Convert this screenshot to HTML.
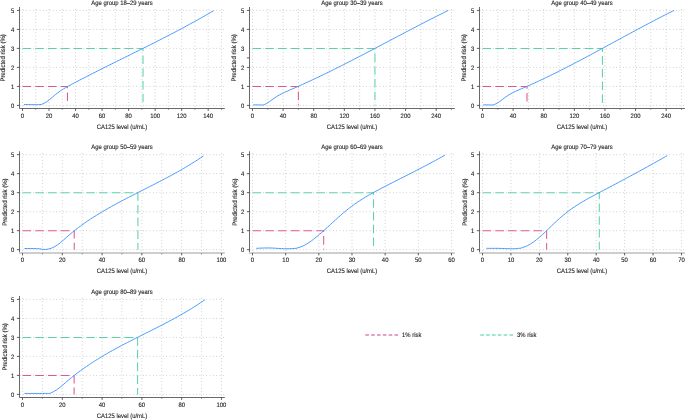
<!DOCTYPE html>
<html lang="en"><head><meta charset="utf-8"><title>Predicted risk by CA125 level and age group</title>
<style>html,body{margin:0;padding:0;background:#fff}body{width:685px;height:420px;overflow:hidden}svg{display:block}text{font-family:"Liberation Sans",Arial,Helvetica,sans-serif;font-size:6px;fill:#1a1a1a;stroke:#1a1a1a;stroke-width:.1px;text-rendering:geometricPrecision}.ax{stroke:#5c5c5c;stroke-width:.92;fill:none}.ax2{stroke:#cecece;stroke-width:2;fill:none}.tk{stroke:#4c4c4c;stroke-width:.9;fill:none}.mt{stroke:#5a5a5a;stroke-width:.6;fill:none}.g,.gh{stroke:#959595;stroke-width:.65;stroke-dasharray:.65 2.68;fill:none}.c{stroke:#479aff;stroke-width:1;fill:none;stroke-linejoin:round}.r{stroke:#dd5890;stroke-width:1.05;fill:none;stroke-dasharray:8.65 4.1}.wu{stroke:#fff;stroke-width:1.8;fill:none;stroke-dasharray:8.65 4.1}.gr{stroke:#5cd3a6;stroke-width:1.05;fill:none;stroke-dasharray:8.65 4.1}</style></head><body>
<svg width="685" height="420" viewBox="0 0 685 420">
<rect width="685" height="420" fill="#fff"/>
<g>
<path class="gh" d="M19.8 105.4H224.8M19.8 86.4H224.8M19.8 67.4H224.8M19.8 48.4H224.8M19.8 29.4H224.8M19.8 10.4H224.8"/>
<path class="g" d="M22.5 9.1V108M35.76 9.1V108M49.03 9.1V108M62.29 9.1V108M75.56 9.1V108M88.82 9.1V108M102.08 9.1V108M115.35 9.1V108M128.61 9.1V108M141.88 9.1V108M155.14 9.1V108M168.4 9.1V108M181.67 9.1V108M194.93 9.1V108M208.2 9.1V108M221.46 9.1V108"/>
<path class="wu" d="M22.5 48.4H143V105.4"/>
<path class="wu" d="M22.5 86.4H67.46V105.4"/>
<path class="gr" d="M22.5 48.4H143V105.4"/>
<path class="r" d="M22.5 86.4H67.46V105.4"/>
<polyline class="c" points="23.96,104.53 25.55,104.54 27.14,104.56 28.74,104.58 30.33,104.6 31.92,104.63 33.52,104.64 35.11,104.64 36.7,104.64 38.29,104.63 39.89,104.58 41.48,104.46 43.07,103.76 44.67,102.93 46.26,101.97 47.85,100.91 49.44,99.72 51.04,98.4 52.63,97.03 54.22,95.66 55.81,94.31 57.41,93.05 59,91.87 60.59,90.76 62.19,89.71 63.78,88.72 65.37,87.77 66.96,86.86 68.56,85.99 70.15,85.13 71.74,84.28 73.34,83.44 74.93,82.6 76.52,81.77 78.11,80.93 79.71,80.1 81.3,79.28 82.89,78.45 84.49,77.63 86.08,76.81 87.67,76 89.26,75.18 90.86,74.37 92.45,73.56 94.04,72.75 95.63,71.95 97.23,71.14 98.82,70.34 100.41,69.54 102.01,68.74 103.6,67.94 105.19,67.14 106.78,66.35 108.38,65.56 109.97,64.76 111.56,63.97 113.16,63.18 114.75,62.39 116.34,61.6 117.93,60.81 119.53,60.02 121.12,59.23 122.71,58.44 124.31,57.66 125.9,56.87 127.49,56.08 129.08,55.29 130.68,54.5 132.27,53.71 133.86,52.92 135.45,52.14 137.05,51.35 138.64,50.55 140.23,49.76 141.83,48.97 143.42,48.18 145.01,47.38 146.6,46.58 148.2,45.79 149.79,44.99 151.38,44.19 152.98,43.39 154.57,42.58 156.16,41.78 157.75,40.97 159.35,40.16 160.94,39.35 162.53,38.54 164.12,37.72 165.72,36.9 167.31,36.08 168.9,35.26 170.5,34.43 172.09,33.61 173.68,32.77 175.27,31.94 176.87,31.1 178.46,30.26 180.05,29.42 181.65,28.57 183.24,27.72 184.83,26.87 186.42,26.01 188.02,25.15 189.61,24.28 191.2,23.41 192.8,22.54 194.39,21.66 195.98,20.78 197.57,19.89 199.17,19 200.76,18.11 202.35,17.21 203.94,16.3 205.54,15.39 207.13,14.48 208.72,13.56 210.32,12.64 211.91,11.71 213.5,10.77"/>
<path class="ax" d="M19.5 7V108.5H224.8"/>
<path class="tk" d="M16.9 105.4H19.5M16.9 86.4H19.5M16.9 67.4H19.5M16.9 48.4H19.5M16.9 29.4H19.5M16.9 10.4H19.5"/>
<text transform="translate(14.2 107.6) scale(.985 1.08)" text-anchor="end">0</text>
<text transform="translate(14.2 88.6) scale(.985 1.08)" text-anchor="end">1</text>
<text transform="translate(14.2 69.6) scale(.985 1.08)" text-anchor="end">2</text>
<text transform="translate(14.2 50.6) scale(.985 1.08)" text-anchor="end">3</text>
<text transform="translate(14.2 31.6) scale(.985 1.08)" text-anchor="end">4</text>
<text transform="translate(14.2 12.6) scale(.985 1.08)" text-anchor="end">5</text>
<path class="tk" d="M22.5 108.5V110.9M49.03 108.5V110.9M75.56 108.5V110.9M102.08 108.5V110.9M128.61 108.5V110.9M155.14 108.5V110.9M181.67 108.5V110.9M208.2 108.5V110.9"/>
<path class="mt" d="M35.76 108.5V110M62.29 108.5V110M88.82 108.5V110M115.35 108.5V110M141.88 108.5V110M168.4 108.5V110M194.93 108.5V110M221.46 108.5V110"/>
<text transform="translate(22.5 118.2) scale(.985 1.08)" text-anchor="middle">0</text>
<text transform="translate(49.03 118.2) scale(.985 1.08)" text-anchor="middle">20</text>
<text transform="translate(75.56 118.2) scale(.985 1.08)" text-anchor="middle">40</text>
<text transform="translate(102.08 118.2) scale(.985 1.08)" text-anchor="middle">60</text>
<text transform="translate(128.61 118.2) scale(.985 1.08)" text-anchor="middle">80</text>
<text transform="translate(155.14 118.2) scale(.985 1.08)" text-anchor="middle">100</text>
<text transform="translate(181.67 118.2) scale(.985 1.08)" text-anchor="middle">120</text>
<text transform="translate(208.2 118.2) scale(.985 1.08)" text-anchor="middle">140</text>
<text transform="translate(122 129.3) scale(.985 1.08)" text-anchor="middle">CA125 level (u/mL)</text>
<text transform="translate(122 4.5) scale(.985 1.08)" text-anchor="middle">Age group 18–29 years</text>
<text transform="translate(5.4 57.9) rotate(-90) scale(1 1.08)" text-anchor="middle">Predicted risk (%)</text>
</g>
<g>
<path class="gh" d="M249.8 105.4H454.8M249.8 86.4H454.8M249.8 67.4H454.8M249.8 48.4H454.8M249.8 29.4H454.8M249.8 10.4H454.8"/>
<path class="g" d="M252.5 9.1V108M267.8 9.1V108M283.11 9.1V108M298.41 9.1V108M313.72 9.1V108M329.02 9.1V108M344.33 9.1V108M359.63 9.1V108M374.94 9.1V108M390.24 9.1V108M405.55 9.1V108M420.85 9.1V108M436.16 9.1V108M451.46 9.1V108"/>
<path class="wu" d="M252.5 48.4H374.94V105.4"/>
<path class="wu" d="M252.5 86.4H298.41V105.4"/>
<path class="gr" d="M252.5 48.4H374.94V105.4"/>
<path class="r" d="M252.5 86.4H298.41V105.4"/>
<polyline class="c" points="253.27,104.83 254.9,104.86 256.54,104.89 258.18,104.92 259.82,104.95 261.46,105 263.1,105.02 264.73,104.45 266.37,103.55 268.01,102.61 269.65,101.51 271.29,100.32 272.93,99.14 274.57,98 276.2,96.91 277.84,95.9 279.48,94.95 281.12,94.06 282.76,93.23 284.4,92.43 286.04,91.67 287.67,90.94 289.31,90.22 290.95,89.51 292.59,88.81 294.23,88.09 295.87,87.38 297.5,86.65 299.14,85.93 300.78,85.2 302.42,84.46 304.06,83.72 305.7,82.97 307.34,82.22 308.97,81.46 310.61,80.7 312.25,79.94 313.89,79.17 315.53,78.4 317.17,77.62 318.8,76.84 320.44,76.06 322.08,75.27 323.72,74.48 325.36,73.68 327,72.89 328.64,72.08 330.27,71.28 331.91,70.47 333.55,69.66 335.19,68.84 336.83,68.03 338.47,67.21 340.11,66.38 341.74,65.56 343.38,64.73 345.02,63.9 346.66,63.06 348.3,62.23 349.94,61.39 351.57,60.55 353.21,59.71 354.85,58.86 356.49,58.02 358.13,57.17 359.77,56.32 361.41,55.47 363.04,54.62 364.68,53.76 366.32,52.91 367.96,52.05 369.6,51.19 371.24,50.33 372.88,49.47 374.51,48.61 376.15,47.75 377.79,46.89 379.43,46.03 381.07,45.16 382.71,44.3 384.34,43.44 385.98,42.57 387.62,41.71 389.26,40.84 390.9,39.98 392.54,39.11 394.18,38.25 395.81,37.38 397.45,36.52 399.09,35.66 400.73,34.79 402.37,33.93 404.01,33.07 405.65,32.21 407.28,31.35 408.92,30.49 410.56,29.63 412.2,28.78 413.84,27.92 415.48,27.07 417.11,26.22 418.75,25.36 420.39,24.51 422.03,23.67 423.67,22.82 425.31,21.98 426.95,21.13 428.58,20.29 430.22,19.46 431.86,18.62 433.5,17.79 435.14,16.96 436.78,16.13 438.42,15.3 440.05,14.48 441.69,13.66 443.33,12.84 444.97,12.03 446.61,11.22 448.25,10.41"/>
<path class="ax" d="M249.5 7V108.5H454.8"/>
<path class="tk" d="M246.9 105.4H249.5M246.9 86.4H249.5M246.9 67.4H249.5M246.9 57.9H249.5M246.9 29.4H249.5M246.9 10.4H249.5"/>
<text transform="translate(244.2 107.6) scale(.985 1.08)" text-anchor="end">0</text>
<text transform="translate(244.2 88.6) scale(.985 1.08)" text-anchor="end">1</text>
<text transform="translate(244.2 69.6) scale(.985 1.08)" text-anchor="end">2</text>
<text transform="translate(244.2 50.6) scale(.985 1.08)" text-anchor="end">3</text>
<text transform="translate(244.2 31.6) scale(.985 1.08)" text-anchor="end">4</text>
<text transform="translate(244.2 12.6) scale(.985 1.08)" text-anchor="end">5</text>
<path class="tk" d="M252.5 108.5V110.9M283.11 108.5V110.9M313.72 108.5V110.9M344.33 108.5V110.9M374.94 108.5V110.9M405.55 108.5V110.9M436.16 108.5V110.9"/>
<path class="mt" d="M267.8 108.5V110M298.41 108.5V110M329.02 108.5V110M359.63 108.5V110M390.24 108.5V110M420.85 108.5V110M451.46 108.5V110"/>
<text transform="translate(252.5 118.2) scale(.985 1.08)" text-anchor="middle">0</text>
<text transform="translate(283.11 118.2) scale(.985 1.08)" text-anchor="middle">40</text>
<text transform="translate(313.72 118.2) scale(.985 1.08)" text-anchor="middle">80</text>
<text transform="translate(344.33 118.2) scale(.985 1.08)" text-anchor="middle">120</text>
<text transform="translate(374.94 118.2) scale(.985 1.08)" text-anchor="middle">160</text>
<text transform="translate(405.55 118.2) scale(.985 1.08)" text-anchor="middle">200</text>
<text transform="translate(436.16 118.2) scale(.985 1.08)" text-anchor="middle">240</text>
<text transform="translate(352 129.3) scale(.985 1.08)" text-anchor="middle">CA125 level (u/mL)</text>
<text transform="translate(352 4.5) scale(.985 1.08)" text-anchor="middle">Age group 30–39 years</text>
<text transform="translate(236.35 57.9) rotate(-90) scale(1 1.08)" text-anchor="middle">Predicted risk (%)</text>
</g>
<g>
<path class="gh" d="M479.8 105.4H684.8M479.8 86.4H684.8M479.8 67.4H684.8M479.8 48.4H684.8M479.8 29.4H684.8M479.8 10.4H684.8"/>
<path class="g" d="M482.5 9.1V108M497.8 9.1V108M513.11 9.1V108M528.41 9.1V108M543.72 9.1V108M559.02 9.1V108M574.33 9.1V108M589.63 9.1V108M604.94 9.1V108M620.24 9.1V108M635.55 9.1V108M650.85 9.1V108M666.16 9.1V108M681.46 9.1V108"/>
<path class="wu" d="M482.5 48.4H602.41V105.4"/>
<path class="wu" d="M482.5 86.4H527V105.4"/>
<path class="gr" d="M482.5 48.4H602.41V105.4"/>
<path class="r" d="M482.5 86.4H527V105.4"/>
<polyline class="c" points="483.27,104.83 484.87,104.86 486.47,104.88 488.08,104.91 489.68,104.95 491.28,104.99 492.89,105.02 494.49,104.58 496.1,103.7 497.7,102.81 499.3,101.76 500.91,100.59 502.51,99.37 504.11,98.14 505.72,96.96 507.32,95.86 508.93,94.83 510.53,93.89 512.13,93.02 513.74,92.21 515.34,91.44 516.94,90.7 518.55,90 520.15,89.31 521.76,88.62 523.36,87.93 524.96,87.24 526.57,86.54 528.17,85.83 529.77,85.12 531.38,84.4 532.98,83.67 534.59,82.94 536.19,82.21 537.79,81.47 539.4,80.72 541,79.97 542.6,79.21 544.21,78.45 545.81,77.68 547.42,76.91 549.02,76.14 550.62,75.36 552.23,74.57 553.83,73.78 555.43,72.99 557.04,72.19 558.64,71.39 560.25,70.58 561.85,69.77 563.45,68.96 565.06,68.15 566.66,67.33 568.27,66.5 569.87,65.68 571.47,64.85 573.08,64.01 574.68,63.18 576.28,62.34 577.89,61.5 579.49,60.66 581.1,59.81 582.7,58.96 584.3,58.11 585.91,57.26 587.51,56.41 589.11,55.55 590.72,54.69 592.32,53.83 593.93,52.97 595.53,52.11 597.13,51.24 598.74,50.38 600.34,49.51 601.94,48.65 603.55,47.78 605.15,46.91 606.76,46.04 608.36,45.17 609.96,44.3 611.57,43.43 613.17,42.56 614.77,41.69 616.38,40.82 617.98,39.94 619.59,39.07 621.19,38.2 622.79,37.33 624.4,36.46 626,35.6 627.6,34.73 629.21,33.86 630.81,32.99 632.42,32.13 634.02,31.27 635.62,30.4 637.23,29.54 638.83,28.68 640.43,27.83 642.04,26.97 643.64,26.12 645.25,25.27 646.85,24.42 648.45,23.57 650.06,22.72 651.66,21.88 653.26,21.04 654.87,20.2 656.47,19.37 658.08,18.54 659.68,17.71 661.28,16.88 662.89,16.06 664.49,15.24 666.09,14.43 667.7,13.61 669.3,12.8 670.91,12 672.51,11.2 674.11,10.4"/>
<path class="ax" d="M479.5 7V108.5H684.8"/>
<path class="tk" d="M476.9 105.4H479.5M476.9 86.4H479.5M476.9 67.4H479.5M476.9 48.4H479.5M476.9 29.4H479.5M476.9 10.4H479.5"/>
<text transform="translate(474.2 107.6) scale(.985 1.08)" text-anchor="end">0</text>
<text transform="translate(474.2 88.6) scale(.985 1.08)" text-anchor="end">1</text>
<text transform="translate(474.2 69.6) scale(.985 1.08)" text-anchor="end">2</text>
<text transform="translate(474.2 50.6) scale(.985 1.08)" text-anchor="end">3</text>
<text transform="translate(474.2 31.6) scale(.985 1.08)" text-anchor="end">4</text>
<text transform="translate(474.2 12.6) scale(.985 1.08)" text-anchor="end">5</text>
<path class="tk" d="M482.5 108.5V110.9M513.11 108.5V110.9M543.72 108.5V110.9M574.33 108.5V110.9M604.94 108.5V110.9M635.55 108.5V110.9M666.16 108.5V110.9"/>
<path class="mt" d="M497.8 108.5V110M528.41 108.5V110M559.02 108.5V110M589.63 108.5V110M620.24 108.5V110M650.85 108.5V110M681.46 108.5V110"/>
<text transform="translate(482.5 118.2) scale(.985 1.08)" text-anchor="middle">0</text>
<text transform="translate(513.11 118.2) scale(.985 1.08)" text-anchor="middle">40</text>
<text transform="translate(543.72 118.2) scale(.985 1.08)" text-anchor="middle">80</text>
<text transform="translate(574.33 118.2) scale(.985 1.08)" text-anchor="middle">120</text>
<text transform="translate(604.94 118.2) scale(.985 1.08)" text-anchor="middle">160</text>
<text transform="translate(635.55 118.2) scale(.985 1.08)" text-anchor="middle">200</text>
<text transform="translate(666.16 118.2) scale(.985 1.08)" text-anchor="middle">240</text>
<text transform="translate(582 129.3) scale(.985 1.08)" text-anchor="middle">CA125 level (u/mL)</text>
<text transform="translate(582 4.5) scale(.985 1.08)" text-anchor="middle">Age group 40–49 years</text>
<text transform="translate(466.35 57.9) rotate(-90) scale(1 1.08)" text-anchor="middle">Predicted risk (%)</text>
</g>
<g>
<path class="gh" d="M19.8 249.68H224.8M19.8 230.68H224.8M19.8 211.68H224.8M19.8 192.68H224.8M19.8 173.68H224.8M19.8 154.68H224.8"/>
<path class="g" d="M22.5 153.38V252.5M42.4 153.38V252.5M62.29 153.38V252.5M82.19 153.38V252.5M102.08 153.38V252.5M121.98 153.38V252.5M141.88 153.38V252.5M161.77 153.38V252.5M181.67 153.38V252.5M201.56 153.38V252.5M221.46 153.38V252.5"/>
<path class="wu" d="M22.5 192.68H137.9V249.68"/>
<path class="wu" d="M22.5 230.68H74.23V249.68"/>
<path class="gr" d="M22.5 192.68H137.9V249.68"/>
<path class="r" d="M22.5 230.68H74.23V249.68"/>
<polyline class="c" points="24.49,248.54 25.99,248.54 27.5,248.54 29,248.54 30.5,248.54 32,248.54 33.51,248.55 35.01,248.58 36.51,248.63 38.02,248.7 39.52,248.81 41.02,249.04 42.53,249.3 44.03,249.47 45.53,249.46 47.04,249.29 48.54,249.01 50.04,248.67 51.54,248.17 53.05,247.44 54.55,246.69 56.05,245.8 57.56,244.79 59.06,243.68 60.56,242.49 62.07,241.24 63.57,239.94 65.07,238.62 66.58,237.28 68.08,235.96 69.58,234.66 71.08,233.39 72.59,232.15 74.09,230.93 75.59,229.74 77.1,228.57 78.6,227.42 80.1,226.3 81.61,225.2 83.11,224.12 84.61,223.06 86.12,222.01 87.62,220.99 89.12,219.98 90.62,218.99 92.13,218.02 93.63,217.06 95.13,216.11 96.64,215.18 98.14,214.26 99.64,213.35 101.15,212.45 102.65,211.56 104.15,210.68 105.66,209.81 107.16,208.94 108.66,208.09 110.16,207.24 111.67,206.4 113.17,205.57 114.67,204.74 116.18,203.92 117.68,203.11 119.18,202.3 120.69,201.5 122.19,200.7 123.69,199.91 125.2,199.12 126.7,198.34 128.2,197.56 129.7,196.78 131.21,196.01 132.71,195.24 134.21,194.47 135.72,193.7 137.22,192.94 138.72,192.18 140.23,191.41 141.73,190.65 143.23,189.89 144.74,189.13 146.24,188.37 147.74,187.61 149.24,186.85 150.75,186.08 152.25,185.32 153.75,184.55 155.26,183.78 156.76,183.01 158.26,182.23 159.77,181.46 161.27,180.67 162.77,179.89 164.27,179.1 165.78,178.3 167.28,177.51 168.78,176.7 170.29,175.89 171.79,175.08 173.29,174.25 174.8,173.43 176.3,172.59 177.8,171.75 179.31,170.9 180.81,170.04 182.31,169.17 183.81,168.3 185.32,167.41 186.82,166.52 188.32,165.62 189.83,164.71 191.33,163.78 192.83,162.85 194.34,161.91 195.84,160.95 197.34,159.99 198.85,159.01 200.35,158.02 201.85,157.01 203.35,156"/>
<path class="ax" d="M19.5 151.28V253.5"/>
<path class="ax2" d="M19 253H224.8"/>
<path class="tk" d="M16.9 249.68H19.5M16.9 230.68H19.5M16.9 211.68H19.5M16.9 192.68H19.5M16.9 173.68H19.5M16.9 154.68H19.5"/>
<text transform="translate(14.2 251.88) scale(.985 1.08)" text-anchor="end">0</text>
<text transform="translate(14.2 232.88) scale(.985 1.08)" text-anchor="end">1</text>
<text transform="translate(14.2 213.88) scale(.985 1.08)" text-anchor="end">2</text>
<text transform="translate(14.2 194.88) scale(.985 1.08)" text-anchor="end">3</text>
<text transform="translate(14.2 175.88) scale(.985 1.08)" text-anchor="end">4</text>
<text transform="translate(14.2 156.88) scale(.985 1.08)" text-anchor="end">5</text>
<path class="tk" d="M22.5 253V255.4M62.29 253V255.4M102.08 253V255.4M141.88 253V255.4M181.67 253V255.4M221.46 253V255.4"/>
<path class="mt" d="M42.4 253V254.5M82.19 253V254.5M121.98 253V254.5M161.77 253V254.5M201.56 253V254.5"/>
<text transform="translate(22.5 262.2) scale(.985 1.08)" text-anchor="middle">0</text>
<text transform="translate(62.29 262.2) scale(.985 1.08)" text-anchor="middle">20</text>
<text transform="translate(102.08 262.2) scale(.985 1.08)" text-anchor="middle">40</text>
<text transform="translate(141.88 262.2) scale(.985 1.08)" text-anchor="middle">60</text>
<text transform="translate(181.67 262.2) scale(.985 1.08)" text-anchor="middle">80</text>
<text transform="translate(221.46 262.2) scale(.985 1.08)" text-anchor="middle">100</text>
<text transform="translate(122 273.3) scale(.985 1.08)" text-anchor="middle">CA125 level (u/mL)</text>
<text transform="translate(122 148.78) scale(.985 1.08)" text-anchor="middle">Age group 50–59 years</text>
<text transform="translate(7.35 202.18) rotate(-90) scale(1 1.08)" text-anchor="middle">Predicted risk (%)</text>
</g>
<g>
<path class="gh" d="M249.8 249.68H454.8M249.8 230.68H454.8M249.8 211.68H454.8M249.8 192.68H454.8M249.8 173.68H454.8M249.8 154.68H454.8"/>
<path class="g" d="M252.5 153.38V252.5M285.66 153.38V252.5M318.82 153.38V252.5M351.98 153.38V252.5M385.14 153.38V252.5M418.3 153.38V252.5M451.46 153.38V252.5"/>
<path class="wu" d="M252.5 192.68H373.53V249.68"/>
<path class="wu" d="M252.5 230.68H323.69V249.68"/>
<path class="gr" d="M252.5 192.68H373.53V249.68"/>
<path class="r" d="M252.5 230.68H323.69V249.68"/>
<polyline class="c" points="256.31,248.35 257.9,248.26 259.48,248.18 261.07,248.11 262.65,248.06 264.23,248.02 265.82,247.99 267.4,247.97 268.99,247.97 270.57,247.99 272.15,248.05 273.74,248.13 275.32,248.23 276.91,248.33 278.49,248.44 280.08,248.54 281.66,248.62 283.24,248.69 284.83,248.72 286.41,248.73 288,248.71 289.58,248.68 291.16,248.63 292.75,248.56 294.33,248.46 295.92,248.35 297.5,247.94 299.09,247.45 300.67,246.91 302.25,246.26 303.84,245.52 305.42,244.68 307.01,243.77 308.59,242.77 310.17,241.71 311.76,240.58 313.34,239.39 314.93,238.16 316.51,236.88 318.1,235.56 319.68,234.21 321.26,232.84 322.85,231.44 324.43,230.03 326.02,228.59 327.6,227.15 329.18,225.7 330.77,224.24 332.35,222.79 333.94,221.33 335.52,219.89 337.11,218.45 338.69,217.03 340.27,215.62 341.86,214.24 343.44,212.88 345.03,211.54 346.61,210.24 348.19,208.98 349.78,207.75 351.36,206.55 352.95,205.39 354.53,204.25 356.12,203.15 357.7,202.07 359.28,201.02 360.87,199.99 362.45,198.99 364.04,198.01 365.62,197.05 367.2,196.11 368.79,195.18 370.37,194.28 371.96,193.39 373.54,192.51 375.13,191.65 376.71,190.79 378.29,189.95 379.88,189.11 381.46,188.28 383.05,187.46 384.63,186.64 386.21,185.83 387.8,185.01 389.38,184.2 390.97,183.39 392.55,182.59 394.13,181.78 395.72,180.97 397.3,180.17 398.89,179.37 400.47,178.56 402.06,177.76 403.64,176.96 405.22,176.15 406.81,175.35 408.39,174.54 409.98,173.74 411.56,172.93 413.14,172.12 414.73,171.31 416.31,170.5 417.9,169.68 419.48,168.86 421.07,168.04 422.65,167.22 424.23,166.39 425.82,165.56 427.4,164.73 428.99,163.89 430.57,163.05 432.15,162.2 433.74,161.35 435.32,160.49 436.91,159.63 438.49,158.77 440.08,157.89 441.66,157.02 443.24,156.13 444.83,155.24"/>
<path class="ax" d="M249.5 151.28V253.5"/>
<path class="ax2" d="M249 253H454.8"/>
<path class="tk" d="M246.9 249.68H249.5M246.9 230.68H249.5M246.9 211.68H249.5M246.9 192.68H249.5M246.9 173.68H249.5M246.9 154.68H249.5"/>
<text transform="translate(244.2 251.88) scale(.985 1.08)" text-anchor="end">0</text>
<text transform="translate(244.2 232.88) scale(.985 1.08)" text-anchor="end">1</text>
<text transform="translate(244.2 213.88) scale(.985 1.08)" text-anchor="end">2</text>
<text transform="translate(244.2 194.88) scale(.985 1.08)" text-anchor="end">3</text>
<text transform="translate(244.2 175.88) scale(.985 1.08)" text-anchor="end">4</text>
<text transform="translate(244.2 156.88) scale(.985 1.08)" text-anchor="end">5</text>
<path class="tk" d="M252.5 253V255.4M285.66 253V255.4M318.82 253V255.4M351.98 253V255.4M385.14 253V255.4M418.3 253V255.4M451.46 253V255.4"/>
<text transform="translate(252.5 262.2) scale(.985 1.08)" text-anchor="middle">0</text>
<text transform="translate(285.66 262.2) scale(.985 1.08)" text-anchor="middle">10</text>
<text transform="translate(318.82 262.2) scale(.985 1.08)" text-anchor="middle">20</text>
<text transform="translate(351.98 262.2) scale(.985 1.08)" text-anchor="middle">30</text>
<text transform="translate(385.14 262.2) scale(.985 1.08)" text-anchor="middle">40</text>
<text transform="translate(418.3 262.2) scale(.985 1.08)" text-anchor="middle">50</text>
<text transform="translate(451.46 262.2) scale(.985 1.08)" text-anchor="middle">60</text>
<text transform="translate(352 273.3) scale(.985 1.08)" text-anchor="middle">CA125 level (u/mL)</text>
<text transform="translate(352 148.78) scale(.985 1.08)" text-anchor="middle">Age group 60–69 years</text>
<text transform="translate(237.35 202.18) rotate(-90) scale(1 1.08)" text-anchor="middle">Predicted risk (%)</text>
</g>
<g>
<path class="gh" d="M479.8 249.68H684.8M479.8 230.68H684.8M479.8 211.68H684.8M479.8 192.68H684.8M479.8 173.68H684.8M479.8 154.68H684.8"/>
<path class="g" d="M482.5 153.38V252.5M510.92 153.38V252.5M539.35 153.38V252.5M567.77 153.38V252.5M596.19 153.38V252.5M624.61 153.38V252.5M653.04 153.38V252.5M681.46 153.38V252.5"/>
<path class="wu" d="M482.5 192.68H599.29V249.68"/>
<path class="wu" d="M482.5 230.68H546.65V249.68"/>
<path class="gr" d="M482.5 192.68H599.29V249.68"/>
<path class="r" d="M482.5 230.68H546.65V249.68"/>
<polyline class="c" points="486.34,248.35 487.86,248.35 489.38,248.35 490.9,248.35 492.42,248.35 493.94,248.35 495.46,248.35 496.98,248.35 498.5,248.37 500.02,248.4 501.54,248.45 503.06,248.5 504.58,248.56 506.1,248.62 507.62,248.67 509.14,248.71 510.66,248.73 512.18,248.72 513.7,248.69 515.22,248.63 516.74,248.54 518.26,248.43 519.78,248.28 521.3,248.07 522.82,247.5 524.34,246.98 525.86,246.38 527.38,245.67 528.9,244.87 530.42,243.98 531.95,243.01 533.47,241.96 534.99,240.85 536.51,239.67 538.03,238.44 539.55,237.15 541.07,235.82 542.59,234.45 544.11,233.05 545.63,231.62 547.15,230.18 548.67,228.72 550.19,227.25 551.71,225.78 553.23,224.31 554.75,222.86 556.27,221.42 557.79,220.01 559.31,218.62 560.83,217.27 562.35,215.96 563.87,214.7 565.39,213.47 566.91,212.27 568.43,211.12 569.95,209.99 571.47,208.9 572.99,207.84 574.51,206.81 576.03,205.81 577.55,204.83 579.07,203.87 580.59,202.94 582.11,202.02 583.63,201.13 585.15,200.25 586.67,199.39 588.19,198.54 589.72,197.7 591.24,196.87 592.76,196.05 594.28,195.24 595.8,194.44 597.32,193.63 598.84,192.83 600.36,192.03 601.88,191.23 603.4,190.42 604.92,189.62 606.44,188.82 607.96,188.01 609.48,187.21 611,186.4 612.52,185.6 614.04,184.79 615.56,183.98 617.08,183.17 618.6,182.36 620.12,181.55 621.64,180.74 623.16,179.92 624.68,179.11 626.2,178.29 627.72,177.47 629.24,176.66 630.76,175.84 632.28,175.01 633.8,174.19 635.32,173.37 636.84,172.54 638.36,171.71 639.88,170.88 641.4,170.05 642.92,169.22 644.44,168.39 645.96,167.55 647.49,166.71 649.01,165.87 650.53,165.03 652.05,164.19 653.57,163.34 655.09,162.49 656.61,161.64 658.13,160.79 659.65,159.93 661.17,159.08 662.69,158.22 664.21,157.35 665.73,156.49 667.25,155.62"/>
<path class="ax" d="M479.5 151.28V253.5"/>
<path class="ax2" d="M479 253H684.8"/>
<path class="tk" d="M476.9 249.68H479.5M476.9 230.68H479.5M476.9 211.68H479.5M476.9 192.68H479.5M476.9 173.68H479.5M476.9 154.68H479.5"/>
<text transform="translate(474.2 251.88) scale(.985 1.08)" text-anchor="end">0</text>
<text transform="translate(474.2 232.88) scale(.985 1.08)" text-anchor="end">1</text>
<text transform="translate(474.2 213.88) scale(.985 1.08)" text-anchor="end">2</text>
<text transform="translate(474.2 194.88) scale(.985 1.08)" text-anchor="end">3</text>
<text transform="translate(474.2 175.88) scale(.985 1.08)" text-anchor="end">4</text>
<text transform="translate(474.2 156.88) scale(.985 1.08)" text-anchor="end">5</text>
<path class="tk" d="M482.5 253V255.4M510.92 253V255.4M539.35 253V255.4M567.77 253V255.4M596.19 253V255.4M624.61 253V255.4M653.04 253V255.4M681.46 253V255.4"/>
<text transform="translate(482.5 262.2) scale(.985 1.08)" text-anchor="middle">0</text>
<text transform="translate(510.92 262.2) scale(.985 1.08)" text-anchor="middle">10</text>
<text transform="translate(539.35 262.2) scale(.985 1.08)" text-anchor="middle">20</text>
<text transform="translate(567.77 262.2) scale(.985 1.08)" text-anchor="middle">30</text>
<text transform="translate(596.19 262.2) scale(.985 1.08)" text-anchor="middle">40</text>
<text transform="translate(624.61 262.2) scale(.985 1.08)" text-anchor="middle">50</text>
<text transform="translate(653.04 262.2) scale(.985 1.08)" text-anchor="middle">60</text>
<text transform="translate(681.46 262.2) scale(.985 1.08)" text-anchor="middle">70</text>
<text transform="translate(582 273.3) scale(.985 1.08)" text-anchor="middle">CA125 level (u/mL)</text>
<text transform="translate(582 148.78) scale(.985 1.08)" text-anchor="middle">Age group 70–79 years</text>
<text transform="translate(467.35 202.18) rotate(-90) scale(1 1.08)" text-anchor="middle">Predicted risk (%)</text>
</g>
<g>
<path class="gh" d="M19.8 394.4H224.8M19.8 375.4H224.8M19.8 356.4H224.8M19.8 337.4H224.8M19.8 318.4H224.8M19.8 299.4H224.8"/>
<path class="g" d="M22.5 298.1V397M42.4 298.1V397M62.29 298.1V397M82.19 298.1V397M102.08 298.1V397M121.98 298.1V397M141.88 298.1V397M161.77 298.1V397M181.67 298.1V397M201.56 298.1V397M221.46 298.1V397"/>
<path class="wu" d="M22.5 337.4H137.6V394.4"/>
<path class="wu" d="M22.5 375.4H74.13V394.4"/>
<path class="gr" d="M22.5 337.4H137.6V394.4"/>
<path class="r" d="M22.5 375.4H74.13V394.4"/>
<polyline class="c" points="24.49,393.45 26.01,393.45 27.52,393.45 29.04,393.45 30.56,393.45 32.07,393.45 33.59,393.45 35.1,393.45 36.62,393.45 38.14,393.45 39.65,393.45 41.17,393.45 42.69,393.45 44.2,393.45 45.72,393.45 47.24,393.45 48.75,393.45 50.27,393.23 51.79,392.5 53.3,391.79 54.82,390.96 56.33,390 57.85,388.93 59.37,387.79 60.88,386.58 62.4,385.31 63.92,384.02 65.43,382.71 66.95,381.4 68.47,380.12 69.98,378.85 71.5,377.61 73.02,376.39 74.53,375.19 76.05,374.02 77.57,372.87 79.08,371.73 80.6,370.62 82.11,369.52 83.63,368.44 85.15,367.38 86.66,366.34 88.18,365.31 89.7,364.29 91.21,363.29 92.73,362.3 94.25,361.32 95.76,360.36 97.28,359.41 98.8,358.47 100.31,357.54 101.83,356.63 103.34,355.72 104.86,354.83 106.38,353.94 107.89,353.07 109.41,352.2 110.93,351.34 112.44,350.49 113.96,349.65 115.48,348.82 116.99,347.99 118.51,347.18 120.03,346.36 121.54,345.56 123.06,344.76 124.57,343.96 126.09,343.17 127.61,342.39 129.12,341.61 130.64,340.83 132.16,340.06 133.67,339.29 135.19,338.52 136.71,337.76 138.22,337 139.74,336.24 141.26,335.48 142.77,334.72 144.29,333.96 145.81,333.2 147.32,332.44 148.84,331.69 150.35,330.93 151.87,330.17 153.39,329.4 154.9,328.64 156.42,327.87 157.94,327.1 159.45,326.33 160.97,325.55 162.49,324.77 164,323.99 165.52,323.2 167.04,322.4 168.55,321.6 170.07,320.79 171.58,319.98 173.1,319.16 174.62,318.34 176.13,317.5 177.65,316.66 179.17,315.81 180.68,314.95 182.2,314.09 183.72,313.21 185.23,312.33 186.75,311.43 188.27,310.52 189.78,309.61 191.3,308.68 192.81,307.74 194.33,306.79 195.85,305.82 197.36,304.85 198.88,303.86 200.4,302.85 201.91,301.84 203.43,300.81 204.95,299.76"/>
<path class="ax" d="M19.5 296V397.5H224.8"/>
<path class="tk" d="M16.9 394.4H19.5M16.9 375.4H19.5M16.9 356.4H19.5M16.9 337.4H19.5M16.9 318.4H19.5M16.9 299.4H19.5"/>
<text transform="translate(14.2 396.6) scale(.985 1.08)" text-anchor="end">0</text>
<text transform="translate(14.2 377.6) scale(.985 1.08)" text-anchor="end">1</text>
<text transform="translate(14.2 358.6) scale(.985 1.08)" text-anchor="end">2</text>
<text transform="translate(14.2 339.6) scale(.985 1.08)" text-anchor="end">3</text>
<text transform="translate(14.2 320.6) scale(.985 1.08)" text-anchor="end">4</text>
<text transform="translate(14.2 301.6) scale(.985 1.08)" text-anchor="end">5</text>
<path class="tk" d="M22.5 397.5V399.9M62.29 397.5V399.9M102.08 397.5V399.9M141.88 397.5V399.9M181.67 397.5V399.9M221.46 397.5V399.9"/>
<path class="mt" d="M42.4 397.5V399M82.19 397.5V399M121.98 397.5V399M161.77 397.5V399M201.56 397.5V399"/>
<text transform="translate(22.5 407.2) scale(.985 1.08)" text-anchor="middle">0</text>
<text transform="translate(62.29 407.2) scale(.985 1.08)" text-anchor="middle">20</text>
<text transform="translate(102.08 407.2) scale(.985 1.08)" text-anchor="middle">40</text>
<text transform="translate(141.88 407.2) scale(.985 1.08)" text-anchor="middle">60</text>
<text transform="translate(181.67 407.2) scale(.985 1.08)" text-anchor="middle">80</text>
<text transform="translate(221.46 407.2) scale(.985 1.08)" text-anchor="middle">100</text>
<text transform="translate(122 418.3) scale(.985 1.08)" text-anchor="middle">CA125 level (u/mL)</text>
<text transform="translate(122 293.5) scale(.985 1.08)" text-anchor="middle">Age group 80–89 years</text>
<text transform="translate(7.35 346.9) rotate(-90) scale(1 1.08)" text-anchor="middle">Predicted risk (%)</text>
</g>
<g>
<path d="M365.3 335H399" stroke="#df7fc0" stroke-width="1.6" stroke-dasharray="3.6 2.24" fill="none"/>
<text transform="translate(402 337.3) scale(.985 1.08)">1% risk</text>
<path d="M480.3 335H514" stroke="#7fe0bd" stroke-width="1.6" stroke-dasharray="3.6 2.24" fill="none"/>
<text transform="translate(517 337.3) scale(.985 1.08)">3% risk</text>
</g>
</svg></body></html>
